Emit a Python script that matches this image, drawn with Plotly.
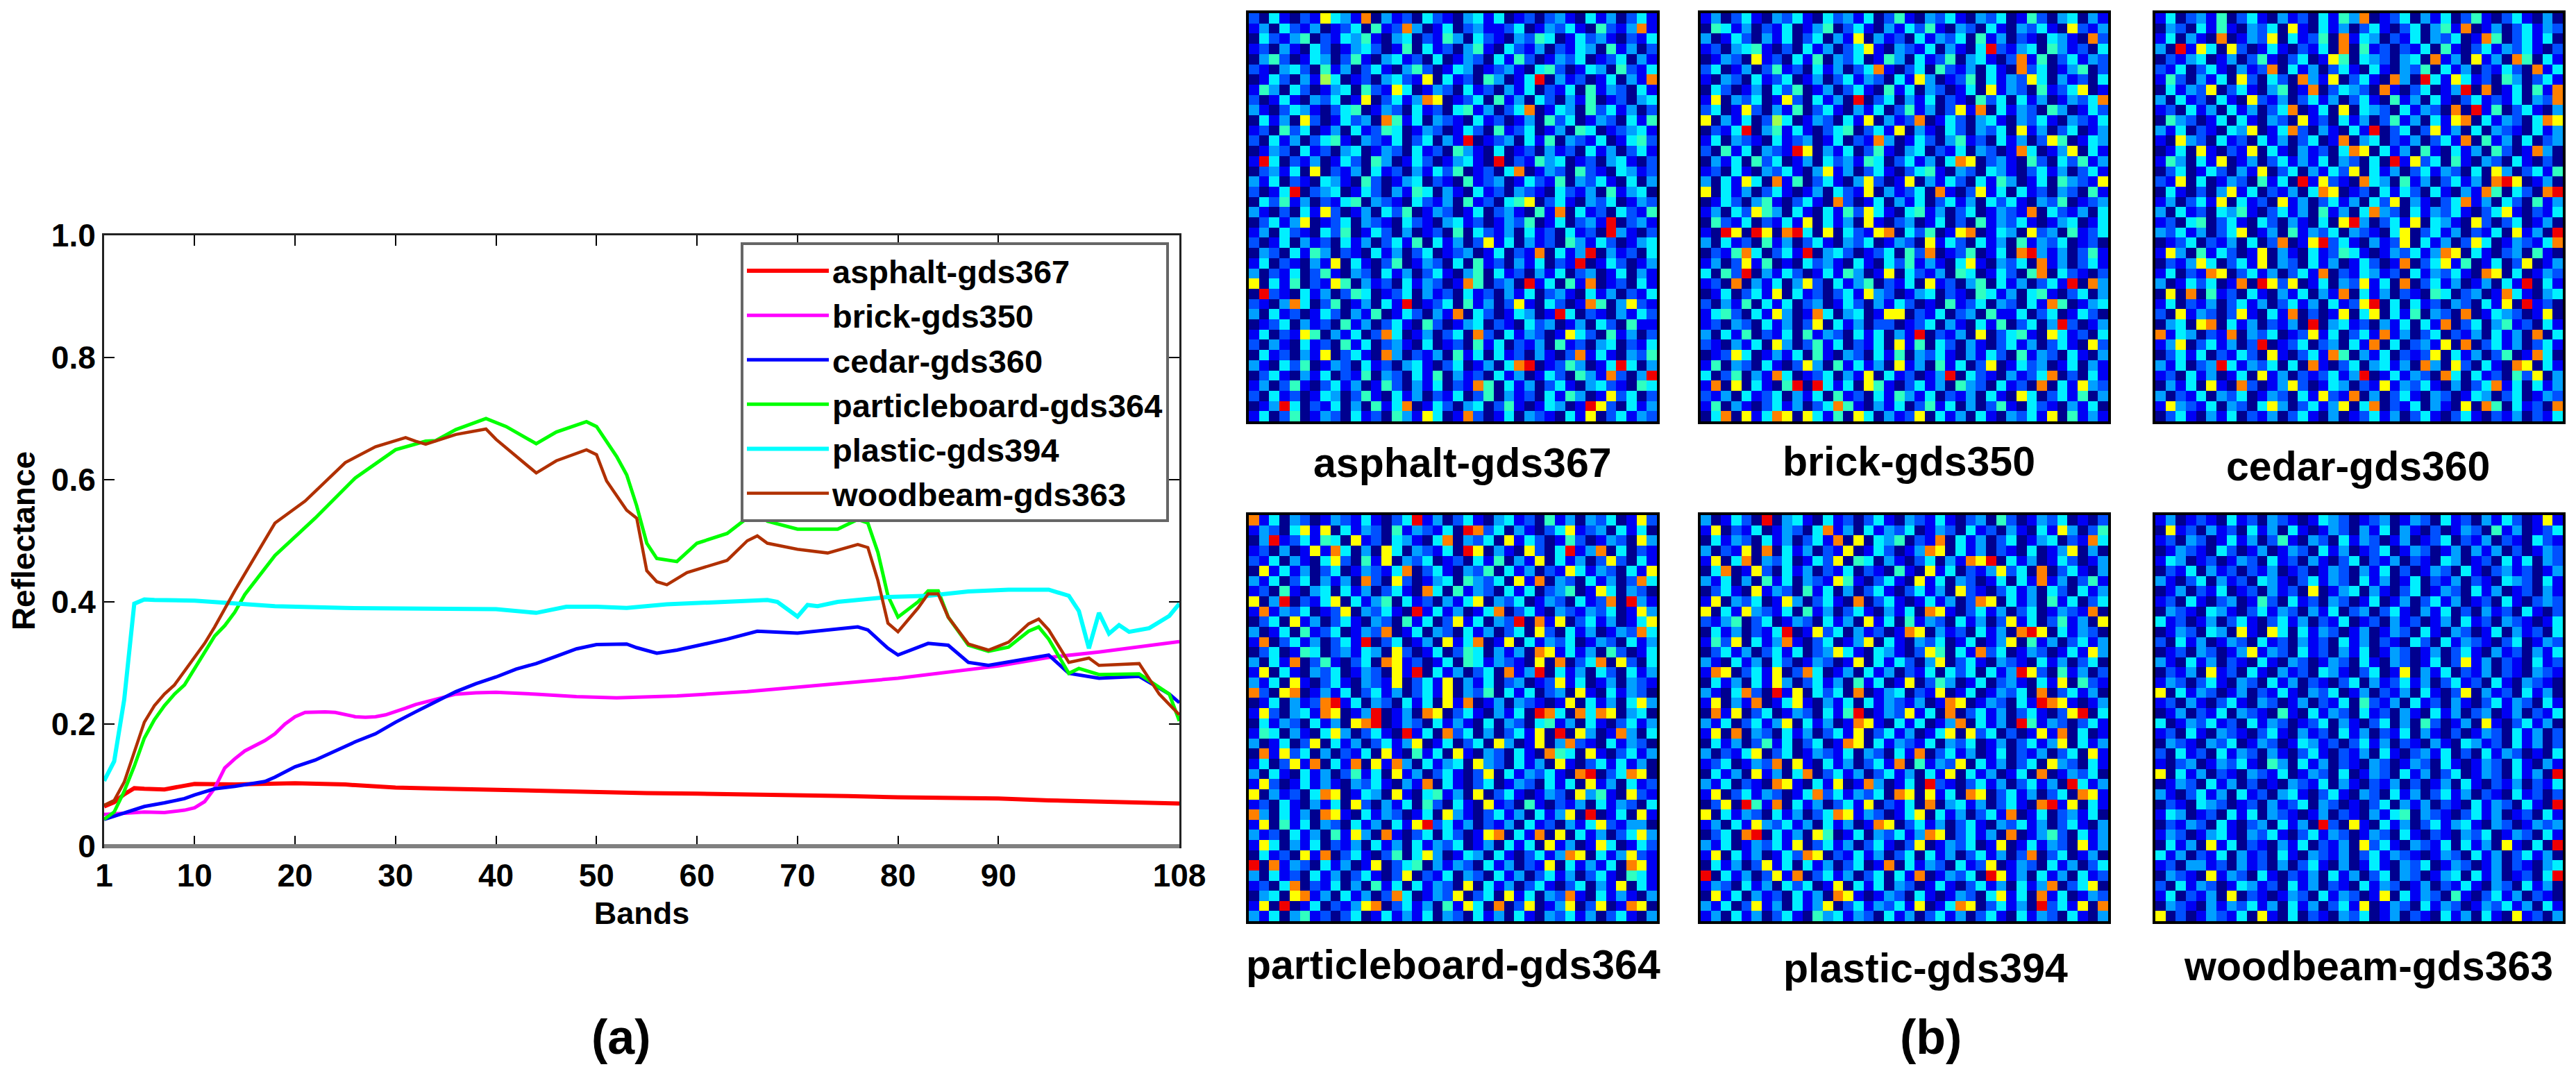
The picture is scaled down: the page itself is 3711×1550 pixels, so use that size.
import plotly.graph_objects as go

W, H = 3711, 1550
PAGE_MARGIN = 8  # the browser page's own body margin, taken off every pixel position

# ---------- panel (a): values ----------
asphalt_b = [1,2,3,4,5,7,9,10,14,20,25,30,35,40,45,50,55,60,65,70,75,80,85,90,95,100,104,108]
asphalt_v = [.065,.072,.085,.095,.094,.093,.099,.102,.101,.103,.101,.096,.094,.092,.090,.088,.087,.086,.085,.083,.082,.080,.079,.078,.075,.073,.070,.070]
brick_b = [1,5,7,9,10,11,12,13,14,15,17,18,19,20,21,22,23,24,25,26,27,28,29,30,31,32,33,34,35,36,38,40,44,48,52,58,65,70,80,90,95,100,108]
brick_v = [.052,.056,.055,.059,.063,.073,.095,.128,.143,.156,.173,.184,.200,.212,.219,.220,.220,.219,.215,.212,.211,.212,.215,.220,.226,.232,.236,.240,.245,.249,.251,.252,.249,.245,.243,.246,.253,.260,.275,.295,.309,.318,.335]
cedar_b = [1,3,5,7,9,10,12,14,16,17,18,19,20,22,24,26,28,30,32,34,36,38,40,42,44,46,48,50,52,53,54,56,58,63,66,70,76,77,79,80,83,85,87,89,95,97,100,104,107,108]
cedar_v = [.044,.054,.065,.071,.078,.084,.094,.098,.103,.106,.113,.122,.130,.141,.156,.171,.184,.203,.220,.237,.253,.266,.277,.290,.299,.311,.323,.330,.331,.331,.325,.316,.321,.339,.352,.349,.359,.354,.324,.313,.332,.329,.301,.296,.313,.283,.275,.278,.249,.235]
particle_b = [1,2,3,4,5,6,7,8,9,10,11,12,13,14,15,18,22,26,30,33,34,36,39,41,44,46,49,50,52,53,54,55,56,58,60,63,66,67,70,74,76,77,78,79,80,82,83,84,85,87,89,91,93,94,95,97,98,100,104,107,108]
particle_v = [.044,.056,.090,.131,.177,.207,.230,.249,.264,.290,.317,.344,.361,.383,.412,.476,.537,.603,.649,.663,.664,.682,.700,.687,.659,.678,.695,.687,.638,.608,.557,.496,.471,.466,.496,.512,.550,.532,.519,.519,.535,.529,.481,.410,.375,.400,.418,.418,.375,.329,.319,.326,.352,.359,.339,.283,.291,.281,.282,.249,.205]
plastic_b = [1,2,3,4,5,6,10,14,18,25,35,40,44,47,50,53,57,62,67,68,70,71,72,74,79,83,87,91,95,97,98,99,100,101,102,103,105,107,108]
plastic_v = [.107,.139,.240,.397,.404,.403,.402,.398,.393,.390,.388,.388,.382,.392,.392,.390,.396,.400,.403,.400,.376,.395,.393,.400,.408,.410,.417,.420,.420,.410,.385,.324,.382,.348,.362,.351,.357,.377,.397]
wood_b = [1,2,3,4,5,6,7,8,9,10,11,12,13,14,15,18,21,25,28,31,32,33,36,39,40,44,46,49,50,51,53,54,55,56,57,59,63,65,66,67,70,73,76,77,78,79,80,82,83,84,85,87,89,91,93,94,95,97,99,100,104,106,108]
wood_v = [.067,.075,.105,.154,.203,.230,.249,.264,.287,.309,.332,.359,.389,.418,.446,.529,.565,.628,.654,.669,.663,.658,.674,.683,.666,.611,.631,.649,.641,.598,.550,.537,.451,.433,.428,.448,.468,.500,.508,.496,.486,.480,.494,.489,.435,.365,.351,.390,.413,.413,.375,.331,.321,.334,.364,.372,.354,.301,.308,.296,.299,.249,.215]

names = ["asphalt-gds367","brick-gds350","cedar-gds360","particleboard-gds364","plastic-gds394","woodbeam-gds363"]
colors = ["#ff0000","#ff00ff","#0000ff","#00ff00","#00ffff","#b03000"]
widths = [6,5,5,5,6,4.5]
x_ticks = [1,10,20,30,40,50,60,70,80,90,108]
y_ticks = [0,.2,.4,.6,.8,1.0]
y_labels = ["0","0.2","0.4","0.6","0.8","1.0"]

# ---------- panel (b): hand-estimated coarse grids (40x40), levels 0-9 ----------
# The reference has about 100x100 cells per panel; these are not cell-accurate.
asphalt_grid = [
"2041021743180312042103414012023104130241",
"1304213012405128301402311240132410521381",
"0421350214351034021530421032540142310214",
"1203104201342015041203510421302143051302",
"0352014302510341204013204152013240124031",
"2103420513024103520143012310452014305214",
"0142031640120342170412053014903120140318",
"1530420134052174013204120314021405132041",
"2014103240170241387012405130420315012034",
"3102431024501320412045130248014305241302",
"0413072014230851403210412013052401320415",
"1205240130412540132014205124013054012341",
"2041302451032140240319012304150321401452",
"0132041203401320412053104012031204130241",
"1940213014205301420134109021534012034102",
"0231407021304120314250120480132052104312",
"3140210431052013402105123014215032410403",
"2014902340142031540310412032104213051340",
"0425130214503210421305120457024103240132",
"3102041720130425013201402310518041204215",
"0241370124032104210341201325014023190231",
"1304210425014203012050421304120412093102",
"2014031204130241504130271403120531420134",
"0320415302104130240123014021804139031204",
"1402103170410250132040512031402190142013",
"3021402510320413024103504120314023014031",
"7041502175031204132018502309140518012041",
"0921041302540124031204120314023104130214",
"2103840250130419012405130271042018503721",
"3041201420315014203180420143019402103142",
"0124031205130241052013402104230130420511",
"1402175031402840130240820413201742051302",
"2031041205140231040120514021305120340214",
"0412031702410830213051404120310281410325",
"3104250132041203410240130489012530149403",
"0241031402150320415031204130142053182039",
"1302510241301520314021850413024103421054",
"2041201430251041302140250312041530172402",
"0139402140305148014203402510143019720413",
"1402501320412053174018201403210417024132",
]
brick_grid = [
"1302410324104231402510324103240152034031",
"0541302140135024103142510320410324107213",
"3014203140240317031204132405130210431082",
"1203451020413024710321403104921340531204",
"0132071204150324015304125034102815024132",
"2401302512041302481024052130410824013502",
"1032041240130241320417301250413274031204",
"0420130425013024105140320140713205124701",
"1703240172041309024031402105240413013248",
"2401720315024103140251302718041320530142",
"7031402640132041703128014203410324103214",
"0214903514102450241703104203240713024013",
"1403210412301402183014203512041302750143",
"2051403219703140251034021403201840137041",
"0314052401304231540241304870231052042513",
"1204103241037130241024510320431024130241",
"3041740815024103720170314204153014053217",
"7041302410130421703124081027140412032051",
"0142035102410820140314024130424103250123",
"1304275304104152741045130240132180421304",
"0521402141704130710230140205132410134014",
"1097097089407042178042501780143072305124",
"3041205130241032401320714204130513240120",
"0215840241903420124052801250140893130251",
"1302715010423104104251310471032408130241",
"4052903142014153017042130540142058042102",
"1208031403720413502140712035041302419083",
"0140241704120241732013402105413045102403",
"2031504140230142031420105124032041850134",
"1452041730184034017702140230511402401420",
"1203204130270413022012403104150240392013",
"3041502140513204140319021307024510741204",
"2103140730251402140715042031024130241072",
"0127401314051032041503241031420513204103",
"1503204102730514130713051402701423014031",
"4025031840124031704120139042103124802041",
"1807041059094140751024130532041208041732",
"2130412403140512041531402130410740241503",
"1503102413024851031402514030251042103140",
"0480714870741507403127041304103241705131",
]
cedar_grid = [
"1402315024103120415380124031402510241030",
"0320415103240710413024102403518013024132",
"1403108013270412508143021403240185024140",
"3091740720141021408051202140510241324102",
"0213401302510240175043203408130713085041",
"2140241031280413024104103250413021420814",
"1520314072042083170241083094174120530241",
"0413270241035018024320810240139080140518",
"3041204107213024130241051304102412140328",
"1204130413024801407043204132080915024103",
"0532014041032071204130251304178041320487",
"3140210437014820310419024027130403210413",
"1073204120413024018034021302418051304023",
"0140710217041031204870413051041305201830",
"1530417013024131403204091724051032041020",
"0240142031702403142704130241320407302415",
"2170401320514091721084305130241308970130",
"0410203714021304870120414204103185042089",
"1302417041207130241304270310248130420513",
"3041204351024130513048320413241024710214",
"1204502410420310407930241704310720240130",
"3241302470130513240321047024130214071309",
"0124021304028017924103127041302740132148",
"1730514201703104125410132413870410230510",
"0213740241703204130142018024715014027013",
"1402187024130241802143120413241087040132",
"3014240180972701403271408024130130419041",
"0708051204103140318041302105402301841034",
"1402130241302413041279040412032041709120",
"2071320271041802017047041503208014320170",
"0340780413021309034120314041802403512041",
"8143021803240127140241813024021304130804",
"1370241302901240230418040231708024130241",
"0241402142071024185031402127041302501840",
"3140239413240408102403413083072041087041",
"1204130140713021241390141320840412052703",
"0314071082013720143021713241030248140413",
"3021403240132041721803024103201430240132",
"1732140320473024137048021403107085041208",
"0241031402130241030124130241024102130214",
]
particle_grid = [
"8140320132141024913024103412051303240172",
"1320471704132051321409824031024712304140",
"0391241540712043104803240714201520132073",
"1203017184030740321409703107204913804021",
"2140310472051703240120415031704130272041",
"0714130240132148024103250413021741320417",
"3140240313082072013405324071803204130284",
"1205103404130241084051320414023501740320",
"7039021470413504120314703240132041280931",
"1813240127032410914130148024103213240173",
"0240713024103205140271403290817024130147",
"3014051240132801403204130240720413013284",
"1802413024190240130714801704132401320413",
"0240154023143072014025403130871413052014",
"3041802510240871201405413210708024807204",
"1704103240132071904130240813904130420413",
"3140710241032170241703140230127140130321",
"8207801314024130241703250414023071041320",
"0140312891403204140718013032101704130473",
"1720341870139013087024103140984084870340",
"0413204130789013204131040320451304102413",
"1540310473024109140824030241709073018304",
"3014027041302413701402407301703821041320",
"0817240302140710514071032041085407102413",
"1402718041807183041340732041307102414130",
"3041041302514071302410270413241089024870",
"1720141310324103180410240132041407130412",
"7031204870143071045130702410132073510721",
"1204103140720314052041071205102130413204",
"8304130871041320140731024130413709014071",
"1705140320413041792413021304120314721330",
"3120413051730810240420178041807041302473",
"1740314021304130413240130414071301740142",
"0412071802410250473014304102413870413721",
"9081320413017024503132041302170413140871",
"3041204130241027021403204130241302410541",
"1204802140305140413207041302410240317041",
"0340781304130284013270240714032810413103",
"1709014021378024130517408027013702701870",
"3140351202401413140320413041032413024103",
]
plastic_grid = [
"3014209034104120241032141023052013240102",
"1702140132048130413240132041203104173025",
"0413204130241807043502180413024013402184",
"3021708041302170142013870413021040137030",
"1704803240142705403102403187904130142013",
"0480172041302140210510714021372408024103",
"3140305140321751024107140320140418130251",
"0241071320514030241024130721024130420413",
"1703240173024108024101413028704130514024",
"7041732140513024103140871024130240132180",
"2135024013204130714051320413027140251307",
"0413021490172403120187031204130897041320",
"1527041381024013704103240140137051302413",
"0241302414023741043102750418240132014173",
"3104130420132017041420370241032104130240",
"1870241702840130413021404240413972051302",
"0413041730241305140170253014023104170521",
"3104820917042408013402170140132408024130",
"1703180147103140413213018701320419871013",
"0817024013204159013271408024130241027904",
"3140241370413018710414013804130951320241",
"1708032041302417024130147072402017180401",
"0413025140240187041321403240130241370413",
"3021470240132140320418024130140213024071",
"1240132807104130241805132704130240732041",
"0413071304802413024130417041301408013240",
"3140210871041701830140921024130241309413",
"1702413201482413240870714087024130240871",
"0270951804130241702140803413024108917041",
"7041320413024871320147041302418014023140",
"1304173241304130187024130241032413024103",
"0240890413075014032413870241308013520413",
"3140132417024130241027013240170141320713",
"1704130142870214130240413024130280240130",
"0413027140413024018041320412701320413024",
"9041302718024130240418013240971304130412",
"1320413042401704140320141024130413802470",
"0714031204130871013204101320471408140132",
"3140271304137024132417014870241309241708",
"1304130241053413204130241302410413204103",
]
wood_grid = [
"1301210412032101432012301320412031420171",
"0712031204130410132031403102013205130124",
"1203201413025103204132013012402130210421",
"0132104201301320413012401320130313020132",
"1430120132041203102402130210430120414032",
"0214031202130120132031402013204102312013",
"3102403120431024132041301402130210432041",
"0130214012031207013403102401320413012031",
"1204102301520412032014013024130120410232",
"0321043102413203140230241031402031204102",
"4120130241024130214012031201304120321014",
"0132043071074041320130132041032014031204",
"2041301320412031204130210420413210240132",
"0120320137132041203140132013024103120314",
"3104130210410320132041032014027130210412",
"0213071204103120431024017031402130210321",
"1320241032041302102403124130241204103210",
"7041320130214103240130213041027031204130",
"1203102410320130214052130412031024132041",
"0130214032105104132041203104130230130214",
"4013241204132012403102403052013071024130",
"1204103210241031204130214031020132041302",
"0321032401320143120241302103104312041302",
"2041204132031024102130410231402041320104",
"1023013241053041302103201320410132041031",
"7041302103214013204013204130240132041309",
"0132041302010321403102130201304102130214",
"3102413041203410241032041302413021041202",
"0210432012031240320102403130210413204109",
"1430120414032101302103145032102413012041",
"0213204102304130920710413024134103201323",
"1320134103241024132013204102103240132041",
"0413071402103140213072410321404130710409",
"4130214031204103213024132101320413024130",
"1203312031203024103014103240132013021034",
"0321071320410213041302403201340413012049",
"2041320143120413021041320130214103204130",
"1402130702101320413201704132051024130210",
"0321031324130413024170132041320132413041",
"7020132140710402103240130210413041071203",
]
grids = [asphalt_grid, brick_grid, cedar_grid, particle_grid, plastic_grid, wood_grid]
jet_levels = ["#00008f","#0000f5","#0050ff","#00a0ff","#00f0ff","#30ffc0","#a0ff50","#ffff00","#ff8000","#f00000"]

# ---------- layout (pixel boxes of the reference) ----------
def fx(px): return (px - PAGE_MARGIN) / W
def fy(py): return 1 - (py - PAGE_MARGIN) / H
def hdom(a, b): return [fx(a), fx(b)]
def vdom(top, bottom): return [fy(bottom), fy(top)]

boxes = [(1799,2387,19,607),(2450,3037,19,607),(3105,3692,19,607),
         (1799,2387,742,1327),(2450,3037,742,1327),(3105,3692,742,1327)]
label_pos = [(2107,667),(2750,665),(3397,672),(2093,1390),(2774,1395),(3412,1392)]

fig = go.Figure()
band_lists = [asphalt_b, brick_b, cedar_b, particle_b, plastic_b, wood_b]
value_lists = [asphalt_v, brick_v, cedar_v, particle_v, plastic_v, wood_v]
for n, c, w, bx, vy in zip(names, colors, widths, band_lists, value_lists):
    fig.add_trace(go.Scatter(x=bx, y=vy, name=f"<b>{n}</b>", mode="lines", line=dict(color=c, width=w),
                             xaxis="x", yaxis="y"))

scale = [[i / 9, c] for i, c in enumerate(jet_levels)]
annotations = []
layout_axes = {}
for i, (g, box, n, lp) in enumerate(zip(grids, boxes, names, label_pos)):
    k = i + 2
    z = [[int(ch) for ch in r.ljust(40, "1")[:40]] for r in g]
    fig.add_trace(go.Heatmap(z=z, zmin=0, zmax=9, colorscale=scale, showscale=False,
                             xaxis=f"x{k}", yaxis=f"y{k}", showlegend=False))
    frame = dict(showticklabels=False, ticks="", showgrid=False, zeroline=False, automargin=False,
                 showline=True, mirror=True, linecolor="#000000", linewidth=4)
    layout_axes[f"xaxis{k}"] = dict(domain=hdom(box[0], box[1]), anchor=f"y{k}", range=[-.5, 39.5], **frame)
    layout_axes[f"yaxis{k}"] = dict(domain=vdom(box[2], box[3]), anchor=f"x{k}", range=[39.5, -.5], **frame)
    annotations.append(dict(text=f"<b>{n}</b>", x=fx(lp[0]), y=fy(lp[1]), xref="paper", yref="paper",
                            xanchor="center", yanchor="middle", showarrow=False,
                            font=dict(family="Liberation Sans", size=59, color="#000")))

for txt, xc, yc, s in [("(a)", 895, 1494, 70), ("(b)", 2781, 1494, 70)]:
    annotations.append(dict(text=f"<b>{txt}</b>", x=fx(xc), y=fy(yc), xref="paper", yref="paper",
                            xanchor="center", yanchor="middle", showarrow=False,
                            font=dict(family="Liberation Sans", size=s, color="#000")))

tickfont = dict(family="Liberation Sans", size=46, color="#000")
fig.update_layout(
    template="none",
    width=W, height=H, margin=dict(l=0, r=0, t=0, b=0),
    paper_bgcolor="#ffffff", plot_bgcolor="#ffffff",
    font=dict(family="Liberation Sans"),
    xaxis=dict(domain=hdom(150, 1699), range=[1, 108], tickmode="array", tickvals=x_ticks,
               ticktext=[f"<b>{t}</b>" for t in x_ticks], ticks="inside", ticklen=15, tickwidth=2,
               tickcolor="#000", showgrid=False, zeroline=False, showline=True, mirror="ticks", automargin=False,
               linecolor="#222", linewidth=3, tickfont=tickfont, anchor="y",
               title=dict(text="<b>Bands</b>", font=dict(family="Liberation Sans", size=45, color="#000"), standoff=14)),
    yaxis=dict(domain=vdom(339, 1219), range=[0, 1], tickmode="array", tickvals=y_ticks,
               ticktext=[f"<b>{t}</b>" for t in y_labels], ticks="inside", ticklen=15, tickwidth=2,
               tickcolor="#000", showgrid=False, zeroline=False, showline=True, mirror="ticks", automargin=False,
               linecolor="#222", linewidth=3, tickfont=tickfont, anchor="x",
               title=dict(text="<b>Reflectance</b>", font=dict(family="Liberation Sans", size=46, color="#000"), standoff=22)),
    legend=dict(xref="paper", yref="paper", x=fx(1067), y=fy(349), xanchor="left", yanchor="top",
                bgcolor="#ffffff", bordercolor="#666666", borderwidth=4, itemwidth=118,
                font=dict(family="Liberation Sans", size=47, color="#000"), tracegroupgap=0,
                itemclick=False, itemdoubleclick=False, traceorder="normal"),
    shapes=[dict(type="line", xref="x domain", yref="y domain", x0=0, x1=1, y0=0, y1=0,
                 line=dict(color="#808080", width=6))],
    annotations=annotations,
    **layout_axes,
)
fig.write_html("out.html")
